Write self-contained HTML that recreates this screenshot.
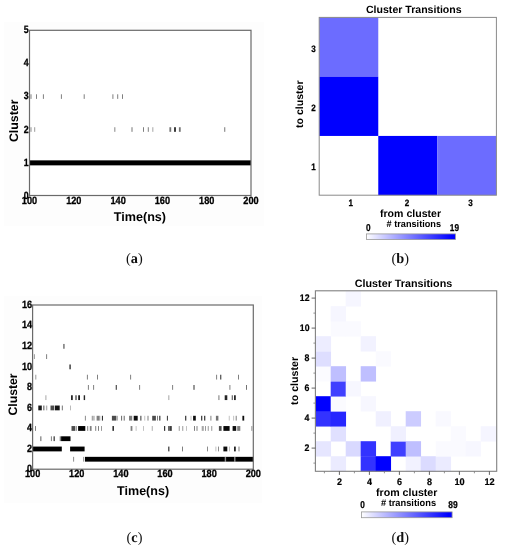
<!DOCTYPE html>
<html lang="en"><head><meta charset="utf-8"><title>Cluster figure</title>
<style>html,body{margin:0;padding:0;background:#fff}body{width:506px;height:550px;overflow:hidden}</style>
</head><body>
<svg width="506" height="550" viewBox="0 0 506 550" style="display:block" text-rendering="geometricPrecision">
<rect width="506" height="550" fill="#fff"/>
<rect x="4" y="22" width="260" height="204" fill="#fdfdfd"/>
<rect x="4" y="296" width="258" height="207" fill="#fdfdfd"/>
<rect x="32.6" y="305" width="220.7" height="164.2" fill="#fff"/>
<rect x="29.5" y="30.3" width="221.5" height="165.2" fill="#fff"/>
<rect x="30.50" y="94.28" width="1" height="4.6" fill="#000" fill-opacity="0.5"/>
<rect x="36.00" y="94.28" width="1" height="4.6" fill="#000" fill-opacity="0.5"/>
<rect x="42.90" y="94.28" width="1" height="4.6" fill="#000" fill-opacity="0.5"/>
<rect x="60.90" y="94.28" width="1" height="4.6" fill="#000" fill-opacity="0.5"/>
<rect x="83.70" y="94.28" width="1" height="4.6" fill="#000" fill-opacity="0.5"/>
<rect x="112.40" y="94.28" width="1" height="4.6" fill="#000" fill-opacity="0.5"/>
<rect x="117.20" y="94.28" width="1" height="4.6" fill="#000" fill-opacity="0.5"/>
<rect x="122.00" y="94.28" width="1" height="4.6" fill="#000" fill-opacity="0.5"/>
<rect x="30.50" y="127.22" width="1" height="4.6" fill="#000" fill-opacity="0.45"/>
<rect x="34.20" y="127.22" width="1" height="4.6" fill="#000" fill-opacity="0.4"/>
<rect x="114.20" y="127.22" width="1.2" height="4.6" fill="#000" fill-opacity="0.4"/>
<rect x="131.40" y="127.22" width="1.2" height="4.6" fill="#000" fill-opacity="0.45"/>
<rect x="143.00" y="127.22" width="1" height="4.6" fill="#000" fill-opacity="0.5"/>
<rect x="147.80" y="127.22" width="1" height="4.6" fill="#000" fill-opacity="0.5"/>
<rect x="152.20" y="127.22" width="1.2" height="4.6" fill="#000" fill-opacity="0.3"/>
<rect x="169.40" y="127.22" width="1.8" height="4.6" fill="#000" fill-opacity="0.55"/>
<rect x="174.10" y="127.22" width="1.8" height="4.6" fill="#000" fill-opacity="0.85"/>
<rect x="178.90" y="127.22" width="1.8" height="4.6" fill="#000" fill-opacity="0.55"/>
<rect x="224.10" y="127.22" width="1.2" height="4.6" fill="#000" fill-opacity="0.45"/>
<rect x="29.50" y="160.36" width="221.50" height="5.0" fill="#000" fill-opacity="1"/>
<rect x="29.5" y="30.3" width="221.5" height="165.2" fill="none" stroke="#6a6a6a" stroke-width="1.2"/>
<text x="28.6" y="198.6" font-size="10.5" text-anchor="end" font-family="Liberation Sans, Arial, Helvetica, sans-serif" font-weight="bold" fill="#000" textLength="4.9" lengthAdjust="spacingAndGlyphs"  stroke="#000" stroke-width="0.3">0</text>
<text x="28.6" y="165.56" font-size="10.5" text-anchor="end" font-family="Liberation Sans, Arial, Helvetica, sans-serif" font-weight="bold" fill="#000" textLength="4.9" lengthAdjust="spacingAndGlyphs"  stroke="#000" stroke-width="0.3">1</text>
<text x="28.6" y="132.52" font-size="10.5" text-anchor="end" font-family="Liberation Sans, Arial, Helvetica, sans-serif" font-weight="bold" fill="#000" textLength="4.9" lengthAdjust="spacingAndGlyphs"  stroke="#000" stroke-width="0.3">2</text>
<text x="28.6" y="99.48" font-size="10.5" text-anchor="end" font-family="Liberation Sans, Arial, Helvetica, sans-serif" font-weight="bold" fill="#000" textLength="4.9" lengthAdjust="spacingAndGlyphs"  stroke="#000" stroke-width="0.3">3</text>
<text x="28.6" y="66.44" font-size="10.5" text-anchor="end" font-family="Liberation Sans, Arial, Helvetica, sans-serif" font-weight="bold" fill="#000" textLength="4.9" lengthAdjust="spacingAndGlyphs"  stroke="#000" stroke-width="0.3">4</text>
<text x="28.6" y="33.40000000000001" font-size="10.5" text-anchor="end" font-family="Liberation Sans, Arial, Helvetica, sans-serif" font-weight="bold" fill="#000" textLength="4.9" lengthAdjust="spacingAndGlyphs"  stroke="#000" stroke-width="0.3">5</text>
<text x="29.5" y="203.5" font-size="10.5" text-anchor="middle" font-family="Liberation Sans, Arial, Helvetica, sans-serif" font-weight="bold" fill="#000" textLength="15.3" lengthAdjust="spacingAndGlyphs"  stroke="#000" stroke-width="0.3">100</text>
<text x="73.8" y="203.5" font-size="10.5" text-anchor="middle" font-family="Liberation Sans, Arial, Helvetica, sans-serif" font-weight="bold" fill="#000" textLength="15.3" lengthAdjust="spacingAndGlyphs"  stroke="#000" stroke-width="0.3">120</text>
<text x="118.1" y="203.5" font-size="10.5" text-anchor="middle" font-family="Liberation Sans, Arial, Helvetica, sans-serif" font-weight="bold" fill="#000" textLength="15.3" lengthAdjust="spacingAndGlyphs"  stroke="#000" stroke-width="0.3">140</text>
<text x="162.4" y="203.5" font-size="10.5" text-anchor="middle" font-family="Liberation Sans, Arial, Helvetica, sans-serif" font-weight="bold" fill="#000" textLength="15.3" lengthAdjust="spacingAndGlyphs"  stroke="#000" stroke-width="0.3">160</text>
<text x="206.7" y="203.5" font-size="10.5" text-anchor="middle" font-family="Liberation Sans, Arial, Helvetica, sans-serif" font-weight="bold" fill="#000" textLength="15.3" lengthAdjust="spacingAndGlyphs"  stroke="#000" stroke-width="0.3">180</text>
<text x="251.0" y="203.5" font-size="10.5" text-anchor="middle" font-family="Liberation Sans, Arial, Helvetica, sans-serif" font-weight="bold" fill="#000" textLength="15.3" lengthAdjust="spacingAndGlyphs"  stroke="#000" stroke-width="0.3">200</text>
<text transform="translate(18.4,120.8) rotate(-90)" font-size="12.3" text-anchor="middle" font-family="Liberation Sans, Arial, Helvetica, sans-serif" font-weight="bold" fill="#000" textLength="42.5" lengthAdjust="spacingAndGlyphs">Cluster</text>
<text x="139.9" y="221.2" font-size="12.6" text-anchor="middle" font-family="Liberation Sans, Arial, Helvetica, sans-serif" font-weight="bold" fill="#000" textLength="52.3" lengthAdjust="spacingAndGlyphs" >Time(ns)</text>
<rect x="63.10" y="343.95" width="1.6" height="4.8" fill="#000" fill-opacity="0.5"/>
<rect x="33.90" y="354.21" width="1" height="4.8" fill="#000" fill-opacity="0.4"/>
<rect x="46.10" y="354.21" width="1" height="4.8" fill="#000" fill-opacity="0.5"/>
<rect x="69.30" y="364.48" width="1.6" height="4.8" fill="#000" fill-opacity="0.7"/>
<rect x="35.30" y="374.74" width="1" height="4.8" fill="#000" fill-opacity="0.4"/>
<rect x="86.90" y="374.74" width="1" height="4.8" fill="#000" fill-opacity="0.5"/>
<rect x="97.00" y="374.74" width="1" height="4.8" fill="#000" fill-opacity="0.5"/>
<rect x="130.10" y="374.74" width="1" height="4.8" fill="#000" fill-opacity="0.5"/>
<rect x="216.10" y="374.74" width="1" height="4.8" fill="#000" fill-opacity="0.5"/>
<rect x="220.05" y="374.74" width="1.3" height="4.8" fill="#000" fill-opacity="0.65"/>
<rect x="238.00" y="374.74" width="1" height="4.8" fill="#000" fill-opacity="0.5"/>
<rect x="87.90" y="385.00" width="1" height="4.8" fill="#000" fill-opacity="0.5"/>
<rect x="93.10" y="385.00" width="1" height="4.8" fill="#000" fill-opacity="0.5"/>
<rect x="115.70" y="385.00" width="1.2" height="4.8" fill="#000" fill-opacity="0.7"/>
<rect x="139.10" y="385.00" width="1" height="4.8" fill="#000" fill-opacity="0.5"/>
<rect x="172.10" y="385.00" width="1" height="4.8" fill="#000" fill-opacity="0.5"/>
<rect x="193.20" y="385.00" width="1.6" height="4.8" fill="#000" fill-opacity="0.5"/>
<rect x="229.40" y="385.00" width="1" height="4.8" fill="#000" fill-opacity="0.5"/>
<rect x="246.00" y="385.00" width="1" height="4.8" fill="#000" fill-opacity="0.55"/>
<rect x="45.40" y="395.26" width="1" height="4.8" fill="#000" fill-opacity="0.35"/>
<rect x="71.00" y="395.26" width="1.8" height="4.8" fill="#000" fill-opacity="0.85"/>
<rect x="75.20" y="395.26" width="1.6" height="4.8" fill="#000" fill-opacity="0.6"/>
<rect x="78.20" y="395.26" width="1.8" height="4.8" fill="#000" fill-opacity="0.9"/>
<rect x="83.70" y="395.26" width="1.4" height="4.8" fill="#000" fill-opacity="0.85"/>
<rect x="168.20" y="395.26" width="1.2" height="4.8" fill="#000" fill-opacity="0.3"/>
<rect x="218.30" y="395.26" width="1.2" height="4.8" fill="#000" fill-opacity="0.45"/>
<rect x="224.70" y="395.26" width="2.6" height="4.8" fill="#000" fill-opacity="0.85"/>
<rect x="231.70" y="395.26" width="1.2" height="4.8" fill="#000" fill-opacity="0.6"/>
<rect x="234.00" y="395.26" width="1.8" height="4.8" fill="#000" fill-opacity="0.85"/>
<rect x="38.30" y="405.53" width="3.50" height="4.8" fill="#000" fill-opacity="0.9"/>
<rect x="43.10" y="405.53" width="1.40" height="4.8" fill="#000" fill-opacity="0.5"/>
<rect x="45.90" y="405.53" width="1.40" height="4.8" fill="#000" fill-opacity="0.3"/>
<rect x="50.50" y="405.53" width="3.70" height="4.8" fill="#000" fill-opacity="0.7"/>
<rect x="54.90" y="405.53" width="4.80" height="4.8" fill="#000" fill-opacity="0.92"/>
<rect x="61.80" y="405.53" width="1.10" height="4.8" fill="#000" fill-opacity="0.5"/>
<rect x="70.00" y="405.53" width="0.90" height="4.8" fill="#000" fill-opacity="0.3"/>
<rect x="84.90" y="415.79" width="0.90" height="4.8" fill="#000" fill-opacity="0.5"/>
<rect x="91.80" y="415.79" width="0.90" height="4.8" fill="#000" fill-opacity="0.5"/>
<rect x="93.50" y="415.79" width="0.90" height="4.8" fill="#000" fill-opacity="0.5"/>
<rect x="96.60" y="415.79" width="2.40" height="4.8" fill="#000" fill-opacity="0.5"/>
<rect x="99.30" y="415.79" width="0.90" height="4.8" fill="#000" fill-opacity="0.5"/>
<rect x="101.90" y="415.79" width="1.10" height="4.8" fill="#000" fill-opacity="0.8"/>
<rect x="111.90" y="415.79" width="4.40" height="4.8" fill="#000" fill-opacity="0.7"/>
<rect x="116.80" y="415.79" width="0.80" height="4.8" fill="#000" fill-opacity="0.5"/>
<rect x="121.10" y="415.79" width="1.00" height="4.8" fill="#000" fill-opacity="0.6"/>
<rect x="123.70" y="415.79" width="1.00" height="4.8" fill="#000" fill-opacity="0.6"/>
<rect x="129.00" y="415.79" width="3.20" height="4.8" fill="#000" fill-opacity="0.5"/>
<rect x="133.70" y="415.79" width="4.00" height="4.8" fill="#000" fill-opacity="0.95"/>
<rect x="140.00" y="415.79" width="1.60" height="4.8" fill="#000" fill-opacity="0.5"/>
<rect x="144.40" y="415.79" width="0.80" height="4.8" fill="#000" fill-opacity="0.3"/>
<rect x="147.50" y="415.79" width="1.00" height="4.8" fill="#000" fill-opacity="0.5"/>
<rect x="152.20" y="415.79" width="3.70" height="4.8" fill="#000" fill-opacity="0.7"/>
<rect x="157.00" y="415.79" width="1.00" height="4.8" fill="#000" fill-opacity="0.5"/>
<rect x="159.20" y="415.79" width="1.20" height="4.8" fill="#000" fill-opacity="0.8"/>
<rect x="166.90" y="415.79" width="1.00" height="4.8" fill="#000" fill-opacity="0.8"/>
<rect x="185.10" y="415.79" width="1.20" height="4.8" fill="#000" fill-opacity="0.8"/>
<rect x="190.60" y="415.79" width="0.80" height="4.8" fill="#000" fill-opacity="0.3"/>
<rect x="193.10" y="415.79" width="2.70" height="4.8" fill="#000" fill-opacity="0.95"/>
<rect x="201.10" y="415.79" width="1.20" height="4.8" fill="#000" fill-opacity="0.8"/>
<rect x="204.10" y="415.79" width="1.20" height="4.8" fill="#000" fill-opacity="0.8"/>
<rect x="210.40" y="415.79" width="1.00" height="4.8" fill="#000" fill-opacity="0.5"/>
<rect x="215.90" y="415.79" width="2.50" height="4.8" fill="#000" fill-opacity="0.55"/>
<rect x="228.80" y="415.79" width="0.80" height="4.8" fill="#000" fill-opacity="0.3"/>
<rect x="233.30" y="415.79" width="0.80" height="4.8" fill="#000" fill-opacity="0.3"/>
<rect x="235.70" y="415.79" width="1.00" height="4.8" fill="#000" fill-opacity="0.5"/>
<rect x="242.40" y="415.79" width="1.80" height="4.8" fill="#000" fill-opacity="0.95"/>
<rect x="35.00" y="426.05" width="1.00" height="4.8" fill="#000" fill-opacity="0.5"/>
<rect x="71.50" y="426.05" width="3.50" height="4.8" fill="#000" fill-opacity="0.7"/>
<rect x="75.40" y="426.05" width="1.60" height="4.8" fill="#000" fill-opacity="0.4"/>
<rect x="78.10" y="426.05" width="7.20" height="4.8" fill="#000" fill-opacity="1"/>
<rect x="87.20" y="426.05" width="1.00" height="4.8" fill="#000" fill-opacity="0.5"/>
<rect x="89.80" y="426.05" width="1.80" height="4.8" fill="#000" fill-opacity="0.5"/>
<rect x="95.20" y="426.05" width="1.00" height="4.8" fill="#000" fill-opacity="0.5"/>
<rect x="98.00" y="426.05" width="1.00" height="4.8" fill="#000" fill-opacity="0.5"/>
<rect x="101.00" y="426.05" width="0.80" height="4.8" fill="#000" fill-opacity="0.5"/>
<rect x="112.40" y="426.05" width="1.60" height="4.8" fill="#000" fill-opacity="0.8"/>
<rect x="130.60" y="426.05" width="1.80" height="4.8" fill="#000" fill-opacity="0.5"/>
<rect x="135.70" y="426.05" width="0.80" height="4.8" fill="#000" fill-opacity="0.3"/>
<rect x="143.10" y="426.05" width="0.80" height="4.8" fill="#000" fill-opacity="0.3"/>
<rect x="151.80" y="426.05" width="0.80" height="4.8" fill="#000" fill-opacity="0.4"/>
<rect x="164.00" y="426.05" width="1.20" height="4.8" fill="#000" fill-opacity="0.8"/>
<rect x="168.00" y="426.05" width="3.70" height="4.8" fill="#000" fill-opacity="0.6"/>
<rect x="170.00" y="426.05" width="1.80" height="4.8" fill="#000" fill-opacity="0.4"/>
<rect x="178.80" y="426.05" width="0.80" height="4.8" fill="#000" fill-opacity="0.5"/>
<rect x="182.40" y="426.05" width="0.80" height="4.8" fill="#000" fill-opacity="0.5"/>
<rect x="186.00" y="426.05" width="0.80" height="4.8" fill="#000" fill-opacity="0.3"/>
<rect x="194.00" y="426.05" width="1.00" height="4.8" fill="#000" fill-opacity="0.5"/>
<rect x="196.50" y="426.05" width="1.00" height="4.8" fill="#000" fill-opacity="0.5"/>
<rect x="201.70" y="426.05" width="2.10" height="4.8" fill="#000" fill-opacity="0.35"/>
<rect x="205.20" y="426.05" width="0.80" height="4.8" fill="#000" fill-opacity="0.5"/>
<rect x="207.80" y="426.05" width="0.80" height="4.8" fill="#000" fill-opacity="0.5"/>
<rect x="211.40" y="426.05" width="0.80" height="4.8" fill="#000" fill-opacity="0.5"/>
<rect x="218.90" y="426.05" width="2.70" height="4.8" fill="#000" fill-opacity="0.7"/>
<rect x="223.40" y="426.05" width="6.20" height="4.8" fill="#000" fill-opacity="0.97"/>
<rect x="232.60" y="426.05" width="3.60" height="4.8" fill="#000" fill-opacity="0.95"/>
<rect x="237.20" y="426.05" width="3.10" height="4.8" fill="#000" fill-opacity="0.5"/>
<rect x="251.30" y="426.05" width="1.00" height="4.8" fill="#000" fill-opacity="0.4"/>
<rect x="40.10" y="436.31" width="1.40" height="4.8" fill="#000" fill-opacity="0.45"/>
<rect x="50.90" y="436.31" width="1.00" height="4.8" fill="#000" fill-opacity="0.5"/>
<rect x="53.50" y="436.31" width="1.40" height="4.8" fill="#000" fill-opacity="0.7"/>
<rect x="59.70" y="436.31" width="1.40" height="4.8" fill="#000" fill-opacity="0.5"/>
<rect x="61.10" y="436.31" width="9.40" height="4.8" fill="#000" fill-opacity="1"/>
<rect x="33.00" y="446.58" width="28.80" height="4.8" fill="#000" fill-opacity="1"/>
<rect x="70.10" y="446.58" width="14.50" height="4.8" fill="#000" fill-opacity="1"/>
<rect x="168.20" y="446.58" width="1.20" height="4.8" fill="#000" fill-opacity="0.8"/>
<rect x="182.00" y="446.58" width="1.00" height="4.8" fill="#000" fill-opacity="0.5"/>
<rect x="207.00" y="446.58" width="0.90" height="4.8" fill="#000" fill-opacity="0.5"/>
<rect x="215.50" y="446.58" width="0.80" height="4.8" fill="#000" fill-opacity="0.3"/>
<rect x="218.00" y="446.58" width="0.90" height="4.8" fill="#000" fill-opacity="0.5"/>
<rect x="223.40" y="446.58" width="3.90" height="4.8" fill="#000" fill-opacity="0.95"/>
<rect x="229.20" y="446.58" width="0.80" height="4.8" fill="#000" fill-opacity="0.3"/>
<rect x="234.00" y="446.58" width="1.80" height="4.8" fill="#000" fill-opacity="0.85"/>
<rect x="238.50" y="446.58" width="1.00" height="4.8" fill="#000" fill-opacity="0.5"/>
<rect x="73.10" y="456.84" width="1.00" height="4.8" fill="#000" fill-opacity="0.45"/>
<rect x="83.20" y="456.84" width="1.00" height="4.8" fill="#000" fill-opacity="0.45"/>
<rect x="85.00" y="456.84" width="168.30" height="4.8" fill="#000" fill-opacity="1"/>
<rect x="224.70000000000002" y="456.7375" width="1.4" height="5" fill="#fff" fill-opacity="0.55"/>
<rect x="234.10000000000002" y="456.7375" width="1.4" height="5" fill="#fff" fill-opacity="0.55"/>
<rect x="32.6" y="305.0" width="220.70000000000002" height="164.2" fill="none" stroke="#6a6a6a" stroke-width="1.2"/>
<text x="32.1" y="472.2" font-size="10.5" text-anchor="end" font-family="Liberation Sans, Arial, Helvetica, sans-serif" font-weight="bold" fill="#000" textLength="5" lengthAdjust="spacingAndGlyphs"  stroke="#000" stroke-width="0.3">0</text>
<text x="32.1" y="451.675" font-size="10.5" text-anchor="end" font-family="Liberation Sans, Arial, Helvetica, sans-serif" font-weight="bold" fill="#000" textLength="5" lengthAdjust="spacingAndGlyphs"  stroke="#000" stroke-width="0.3">2</text>
<text x="32.1" y="431.15" font-size="10.5" text-anchor="end" font-family="Liberation Sans, Arial, Helvetica, sans-serif" font-weight="bold" fill="#000" textLength="5" lengthAdjust="spacingAndGlyphs"  stroke="#000" stroke-width="0.3">4</text>
<text x="32.1" y="410.625" font-size="10.5" text-anchor="end" font-family="Liberation Sans, Arial, Helvetica, sans-serif" font-weight="bold" fill="#000" textLength="5" lengthAdjust="spacingAndGlyphs"  stroke="#000" stroke-width="0.3">6</text>
<text x="32.1" y="390.1" font-size="10.5" text-anchor="end" font-family="Liberation Sans, Arial, Helvetica, sans-serif" font-weight="bold" fill="#000" textLength="5" lengthAdjust="spacingAndGlyphs"  stroke="#000" stroke-width="0.3">8</text>
<text x="32.1" y="369.575" font-size="10.5" text-anchor="end" font-family="Liberation Sans, Arial, Helvetica, sans-serif" font-weight="bold" fill="#000" textLength="10.2" lengthAdjust="spacingAndGlyphs"  stroke="#000" stroke-width="0.3">10</text>
<text x="32.1" y="349.05" font-size="10.5" text-anchor="end" font-family="Liberation Sans, Arial, Helvetica, sans-serif" font-weight="bold" fill="#000" textLength="10.2" lengthAdjust="spacingAndGlyphs"  stroke="#000" stroke-width="0.3">12</text>
<text x="32.1" y="327.825" font-size="10.5" text-anchor="end" font-family="Liberation Sans, Arial, Helvetica, sans-serif" font-weight="bold" fill="#000" textLength="10.2" lengthAdjust="spacingAndGlyphs"  stroke="#000" stroke-width="0.3">14</text>
<text x="32.1" y="308.0" font-size="10.5" text-anchor="end" font-family="Liberation Sans, Arial, Helvetica, sans-serif" font-weight="bold" fill="#000" textLength="10.2" lengthAdjust="spacingAndGlyphs"  stroke="#000" stroke-width="0.3">16</text>
<text x="32.6" y="477.3" font-size="10.5" text-anchor="middle" font-family="Liberation Sans, Arial, Helvetica, sans-serif" font-weight="bold" fill="#000" textLength="15.3" lengthAdjust="spacingAndGlyphs"  stroke="#000" stroke-width="0.3">100</text>
<text x="76.74000000000001" y="477.3" font-size="10.5" text-anchor="middle" font-family="Liberation Sans, Arial, Helvetica, sans-serif" font-weight="bold" fill="#000" textLength="15.3" lengthAdjust="spacingAndGlyphs"  stroke="#000" stroke-width="0.3">120</text>
<text x="120.88" y="477.3" font-size="10.5" text-anchor="middle" font-family="Liberation Sans, Arial, Helvetica, sans-serif" font-weight="bold" fill="#000" textLength="15.3" lengthAdjust="spacingAndGlyphs"  stroke="#000" stroke-width="0.3">140</text>
<text x="165.02" y="477.3" font-size="10.5" text-anchor="middle" font-family="Liberation Sans, Arial, Helvetica, sans-serif" font-weight="bold" fill="#000" textLength="15.3" lengthAdjust="spacingAndGlyphs"  stroke="#000" stroke-width="0.3">160</text>
<text x="209.16" y="477.3" font-size="10.5" text-anchor="middle" font-family="Liberation Sans, Arial, Helvetica, sans-serif" font-weight="bold" fill="#000" textLength="15.3" lengthAdjust="spacingAndGlyphs"  stroke="#000" stroke-width="0.3">180</text>
<text x="253.29999999999998" y="477.3" font-size="10.5" text-anchor="middle" font-family="Liberation Sans, Arial, Helvetica, sans-serif" font-weight="bold" fill="#000" textLength="15.3" lengthAdjust="spacingAndGlyphs"  stroke="#000" stroke-width="0.3">200</text>
<text transform="translate(16.9,394.5) rotate(-90)" font-size="12.3" text-anchor="middle" font-family="Liberation Sans, Arial, Helvetica, sans-serif" font-weight="bold" fill="#000" textLength="42.2" lengthAdjust="spacingAndGlyphs">Cluster</text>
<text x="143.1" y="495.2" font-size="12.6" text-anchor="middle" font-family="Liberation Sans, Arial, Helvetica, sans-serif" font-weight="bold" fill="#000" textLength="52" lengthAdjust="spacingAndGlyphs" >Time(ns)</text>
<rect x="319.20" y="17.40" width="59.07" height="59.27" fill="#6c6cff"/>
<rect x="319.20" y="76.67" width="59.07" height="59.27" fill="#0000ff"/>
<rect x="378.27" y="135.93" width="59.07" height="59.27" fill="#0000ff"/>
<rect x="437.33" y="135.93" width="59.07" height="59.27" fill="#6c6cff"/>
<rect x="319.2" y="17.4" width="177.2" height="177.79999999999998" fill="none" stroke="#8a8a8a" stroke-width="1"/>
<text x="413.8" y="13.2" font-size="10.5" text-anchor="middle" font-family="Liberation Sans, Arial, Helvetica, sans-serif" font-weight="bold" fill="#000" textLength="95.6" lengthAdjust="spacingAndGlyphs" >Cluster Transitions</text>
<text x="315.8" y="51.93333333333333" font-size="9.3" text-anchor="end" font-family="Liberation Sans, Arial, Helvetica, sans-serif" font-weight="bold" fill="#000" textLength="4.5" lengthAdjust="spacingAndGlyphs"  stroke="#000" stroke-width="0.25">3</text>
<text x="315.8" y="111.19999999999997" font-size="9.3" text-anchor="end" font-family="Liberation Sans, Arial, Helvetica, sans-serif" font-weight="bold" fill="#000" textLength="4.5" lengthAdjust="spacingAndGlyphs"  stroke="#000" stroke-width="0.25">2</text>
<text x="315.8" y="170.46666666666667" font-size="9.3" text-anchor="end" font-family="Liberation Sans, Arial, Helvetica, sans-serif" font-weight="bold" fill="#000" textLength="4.5" lengthAdjust="spacingAndGlyphs"  stroke="#000" stroke-width="0.25">1</text>
<text x="350.8" y="206.4" font-size="9.3" text-anchor="middle" font-family="Liberation Sans, Arial, Helvetica, sans-serif" font-weight="bold" fill="#000" textLength="4.5" lengthAdjust="spacingAndGlyphs"  stroke="#000" stroke-width="0.25">1</text>
<text x="406.9" y="206.4" font-size="9.3" text-anchor="middle" font-family="Liberation Sans, Arial, Helvetica, sans-serif" font-weight="bold" fill="#000" textLength="4.5" lengthAdjust="spacingAndGlyphs"  stroke="#000" stroke-width="0.25">2</text>
<text x="470.6" y="206.4" font-size="9.3" text-anchor="middle" font-family="Liberation Sans, Arial, Helvetica, sans-serif" font-weight="bold" fill="#000" textLength="4.5" lengthAdjust="spacingAndGlyphs"  stroke="#000" stroke-width="0.25">3</text>
<text transform="translate(303.4,104.2) rotate(-90)" font-size="10.5" text-anchor="middle" font-family="Liberation Sans, Arial, Helvetica, sans-serif" font-weight="bold" fill="#000" textLength="47.4" lengthAdjust="spacingAndGlyphs">to cluster</text>
<text x="410.5" y="217.2" font-size="10.5" text-anchor="middle" font-family="Liberation Sans, Arial, Helvetica, sans-serif" font-weight="bold" fill="#000" textLength="61" lengthAdjust="spacingAndGlyphs" >from cluster</text>
<text x="413.8" y="226.7" font-size="9.5" text-anchor="middle" font-family="Liberation Sans, Arial, Helvetica, sans-serif" font-weight="bold" fill="#000" textLength="54.4" lengthAdjust="spacingAndGlyphs" ># transitions</text>
<text x="368.4" y="231.0" font-size="10" text-anchor="middle" font-family="Liberation Sans, Arial, Helvetica, sans-serif" font-weight="bold" fill="#000" textLength="4.6" lengthAdjust="spacingAndGlyphs"  stroke="#000" stroke-width="0.25">0</text>
<text x="454.4" y="231.0" font-size="10" text-anchor="middle" font-family="Liberation Sans, Arial, Helvetica, sans-serif" font-weight="bold" fill="#000" textLength="9.2" lengthAdjust="spacingAndGlyphs"  stroke="#000" stroke-width="0.25">19</text>
<defs><linearGradient id="g"><stop offset="0" stop-color="#fff"/><stop offset="0.96" stop-color="#00f"/><stop offset="1" stop-color="#00f"/></linearGradient></defs>
<rect x="366.4" y="233.9" width="89" height="5.7" fill="url(#g)" stroke="#999" stroke-width="0.8"/>
<rect x="330.70" y="456.20" width="15.35" height="15.35" fill="rgb(235,235,255)"/>
<rect x="360.70" y="456.20" width="15.35" height="15.35" fill="rgb(51,51,255)"/>
<rect x="375.70" y="456.20" width="15.35" height="15.35" fill="rgb(0,0,255)"/>
<rect x="405.70" y="456.20" width="15.35" height="15.35" fill="rgb(242,242,255)"/>
<rect x="420.70" y="456.20" width="15.35" height="15.35" fill="rgb(219,219,255)"/>
<rect x="435.70" y="456.20" width="15.35" height="15.35" fill="rgb(235,235,255)"/>
<rect x="315.70" y="441.20" width="15.35" height="15.35" fill="rgb(230,230,255)"/>
<rect x="345.70" y="441.20" width="15.35" height="15.35" fill="rgb(217,217,255)"/>
<rect x="360.70" y="441.20" width="15.35" height="15.35" fill="rgb(51,51,255)"/>
<rect x="390.70" y="441.20" width="15.35" height="15.35" fill="rgb(64,64,255)"/>
<rect x="405.70" y="441.20" width="15.35" height="15.35" fill="rgb(191,191,255)"/>
<rect x="435.70" y="441.20" width="15.35" height="15.35" fill="rgb(250,250,255)"/>
<rect x="450.70" y="441.20" width="15.35" height="15.35" fill="rgb(250,250,255)"/>
<rect x="465.70" y="441.20" width="15.35" height="15.35" fill="rgb(247,247,255)"/>
<rect x="330.70" y="426.20" width="15.35" height="15.35" fill="rgb(224,224,255)"/>
<rect x="390.70" y="426.20" width="15.35" height="15.35" fill="rgb(240,240,255)"/>
<rect x="450.70" y="426.20" width="15.35" height="15.35" fill="rgb(250,250,255)"/>
<rect x="480.70" y="426.20" width="15.35" height="15.35" fill="rgb(245,245,255)"/>
<rect x="315.70" y="411.20" width="15.35" height="15.35" fill="rgb(51,51,255)"/>
<rect x="330.70" y="411.20" width="15.35" height="15.35" fill="rgb(38,38,255)"/>
<rect x="375.70" y="411.20" width="15.35" height="15.35" fill="rgb(240,240,255)"/>
<rect x="405.70" y="411.20" width="15.35" height="15.35" fill="rgb(204,204,255)"/>
<rect x="435.70" y="411.20" width="15.35" height="15.35" fill="rgb(249,249,255)"/>
<rect x="315.70" y="396.20" width="15.35" height="15.35" fill="rgb(0,0,255)"/>
<rect x="330.70" y="396.20" width="15.35" height="15.35" fill="rgb(251,251,255)"/>
<rect x="360.70" y="396.20" width="15.35" height="15.35" fill="rgb(247,247,255)"/>
<rect x="330.70" y="381.20" width="15.35" height="15.35" fill="rgb(64,64,255)"/>
<rect x="345.70" y="381.20" width="15.35" height="15.35" fill="rgb(247,247,255)"/>
<rect x="315.70" y="366.20" width="15.35" height="15.35" fill="rgb(251,251,255)"/>
<rect x="330.70" y="366.20" width="15.35" height="15.35" fill="rgb(191,191,255)"/>
<rect x="360.70" y="366.20" width="15.35" height="15.35" fill="rgb(191,191,255)"/>
<rect x="315.70" y="351.20" width="15.35" height="15.35" fill="rgb(222,222,255)"/>
<rect x="375.70" y="351.20" width="15.35" height="15.35" fill="rgb(250,250,255)"/>
<rect x="315.70" y="336.20" width="15.35" height="15.35" fill="rgb(237,237,255)"/>
<rect x="360.70" y="336.20" width="15.35" height="15.35" fill="rgb(242,242,255)"/>
<rect x="330.70" y="321.20" width="15.35" height="15.35" fill="rgb(250,250,255)"/>
<rect x="345.70" y="321.20" width="15.35" height="15.35" fill="rgb(250,250,255)"/>
<rect x="330.70" y="306.20" width="15.35" height="15.35" fill="rgb(246,246,255)"/>
<rect x="345.70" y="291.20" width="15.35" height="15.35" fill="rgb(246,246,255)"/>
<rect x="315.4" y="290.8" width="181.3" height="180.5" fill="none" stroke="#808080" stroke-width="1.1"/>
<line x1="313.4" x2="315.4" y1="463.10" y2="463.10" stroke="#777" stroke-width="0.8"/>
<line x1="324.40" x2="324.40" y1="471.3" y2="473.3" stroke="#777" stroke-width="0.8"/>
<line x1="311.6" x2="315.4" y1="448.10" y2="448.10" stroke="#555" stroke-width="0.9"/>
<line x1="339.40" x2="339.40" y1="471.3" y2="474.90000000000003" stroke="#555" stroke-width="0.9"/>
<text x="309.5" y="451.4" font-size="9.5" text-anchor="end" font-family="Liberation Sans, Arial, Helvetica, sans-serif" font-weight="bold" fill="#000" textLength="4.9" lengthAdjust="spacingAndGlyphs"  stroke="#000" stroke-width="0.2">2</text>
<text x="339.59999999999997" y="485.3" font-size="9.6" text-anchor="middle" font-family="Liberation Sans, Arial, Helvetica, sans-serif" font-weight="bold" fill="#000" textLength="5" lengthAdjust="spacingAndGlyphs"  stroke="#000" stroke-width="0.2">2</text>
<line x1="313.4" x2="315.4" y1="433.10" y2="433.10" stroke="#777" stroke-width="0.8"/>
<line x1="354.40" x2="354.40" y1="471.3" y2="473.3" stroke="#777" stroke-width="0.8"/>
<line x1="311.6" x2="315.4" y1="418.10" y2="418.10" stroke="#555" stroke-width="0.9"/>
<line x1="369.40" x2="369.40" y1="471.3" y2="474.90000000000003" stroke="#555" stroke-width="0.9"/>
<text x="309.5" y="421.4" font-size="9.5" text-anchor="end" font-family="Liberation Sans, Arial, Helvetica, sans-serif" font-weight="bold" fill="#000" textLength="4.9" lengthAdjust="spacingAndGlyphs"  stroke="#000" stroke-width="0.2">4</text>
<text x="369.59999999999997" y="485.3" font-size="9.6" text-anchor="middle" font-family="Liberation Sans, Arial, Helvetica, sans-serif" font-weight="bold" fill="#000" textLength="5" lengthAdjust="spacingAndGlyphs"  stroke="#000" stroke-width="0.2">4</text>
<line x1="313.4" x2="315.4" y1="403.10" y2="403.10" stroke="#777" stroke-width="0.8"/>
<line x1="384.40" x2="384.40" y1="471.3" y2="473.3" stroke="#777" stroke-width="0.8"/>
<line x1="311.6" x2="315.4" y1="388.10" y2="388.10" stroke="#555" stroke-width="0.9"/>
<line x1="399.40" x2="399.40" y1="471.3" y2="474.90000000000003" stroke="#555" stroke-width="0.9"/>
<text x="309.5" y="391.4" font-size="9.5" text-anchor="end" font-family="Liberation Sans, Arial, Helvetica, sans-serif" font-weight="bold" fill="#000" textLength="4.9" lengthAdjust="spacingAndGlyphs"  stroke="#000" stroke-width="0.2">6</text>
<text x="399.59999999999997" y="485.3" font-size="9.6" text-anchor="middle" font-family="Liberation Sans, Arial, Helvetica, sans-serif" font-weight="bold" fill="#000" textLength="5" lengthAdjust="spacingAndGlyphs"  stroke="#000" stroke-width="0.2">6</text>
<line x1="313.4" x2="315.4" y1="373.10" y2="373.10" stroke="#777" stroke-width="0.8"/>
<line x1="414.40" x2="414.40" y1="471.3" y2="473.3" stroke="#777" stroke-width="0.8"/>
<line x1="311.6" x2="315.4" y1="358.10" y2="358.10" stroke="#555" stroke-width="0.9"/>
<line x1="429.40" x2="429.40" y1="471.3" y2="474.90000000000003" stroke="#555" stroke-width="0.9"/>
<text x="309.5" y="361.4" font-size="9.5" text-anchor="end" font-family="Liberation Sans, Arial, Helvetica, sans-serif" font-weight="bold" fill="#000" textLength="4.9" lengthAdjust="spacingAndGlyphs"  stroke="#000" stroke-width="0.2">8</text>
<text x="429.59999999999997" y="485.3" font-size="9.6" text-anchor="middle" font-family="Liberation Sans, Arial, Helvetica, sans-serif" font-weight="bold" fill="#000" textLength="5" lengthAdjust="spacingAndGlyphs"  stroke="#000" stroke-width="0.2">8</text>
<line x1="313.4" x2="315.4" y1="343.10" y2="343.10" stroke="#777" stroke-width="0.8"/>
<line x1="444.40" x2="444.40" y1="471.3" y2="473.3" stroke="#777" stroke-width="0.8"/>
<line x1="311.6" x2="315.4" y1="328.10" y2="328.10" stroke="#555" stroke-width="0.9"/>
<line x1="459.40" x2="459.40" y1="471.3" y2="474.90000000000003" stroke="#555" stroke-width="0.9"/>
<text x="309.5" y="331.4" font-size="9.5" text-anchor="end" font-family="Liberation Sans, Arial, Helvetica, sans-serif" font-weight="bold" fill="#000" textLength="9.7" lengthAdjust="spacingAndGlyphs"  stroke="#000" stroke-width="0.2">10</text>
<text x="459.59999999999997" y="485.3" font-size="9.6" text-anchor="middle" font-family="Liberation Sans, Arial, Helvetica, sans-serif" font-weight="bold" fill="#000" textLength="10.2" lengthAdjust="spacingAndGlyphs"  stroke="#000" stroke-width="0.2">10</text>
<line x1="313.4" x2="315.4" y1="313.10" y2="313.10" stroke="#777" stroke-width="0.8"/>
<line x1="474.40" x2="474.40" y1="471.3" y2="473.3" stroke="#777" stroke-width="0.8"/>
<line x1="311.6" x2="315.4" y1="298.10" y2="298.10" stroke="#555" stroke-width="0.9"/>
<line x1="489.40" x2="489.40" y1="471.3" y2="474.90000000000003" stroke="#555" stroke-width="0.9"/>
<text x="309.5" y="301.4" font-size="9.5" text-anchor="end" font-family="Liberation Sans, Arial, Helvetica, sans-serif" font-weight="bold" fill="#000" textLength="9.7" lengthAdjust="spacingAndGlyphs"  stroke="#000" stroke-width="0.2">12</text>
<text x="489.59999999999997" y="485.3" font-size="9.6" text-anchor="middle" font-family="Liberation Sans, Arial, Helvetica, sans-serif" font-weight="bold" fill="#000" textLength="10.2" lengthAdjust="spacingAndGlyphs"  stroke="#000" stroke-width="0.2">12</text>
<text x="403.5" y="287" font-size="10.7" text-anchor="middle" font-family="Liberation Sans, Arial, Helvetica, sans-serif" font-weight="bold" fill="#000" textLength="97.4" lengthAdjust="spacingAndGlyphs" >Cluster Transitions</text>
<text transform="translate(297.5,380.9) rotate(-90)" font-size="10.6" text-anchor="middle" font-family="Liberation Sans, Arial, Helvetica, sans-serif" font-weight="bold" fill="#000" textLength="48" lengthAdjust="spacingAndGlyphs">to cluster</text>
<text x="406.7" y="496.2" font-size="10.6" text-anchor="middle" font-family="Liberation Sans, Arial, Helvetica, sans-serif" font-weight="bold" fill="#000" textLength="61.4" lengthAdjust="spacingAndGlyphs" >from cluster</text>
<text x="408.5" y="506.0" font-size="9.6" text-anchor="middle" font-family="Liberation Sans, Arial, Helvetica, sans-serif" font-weight="bold" fill="#000" textLength="55.1" lengthAdjust="spacingAndGlyphs" ># transitions</text>
<text x="362.5" y="508.1" font-size="10" text-anchor="middle" font-family="Liberation Sans, Arial, Helvetica, sans-serif" font-weight="bold" fill="#000" textLength="4.6" lengthAdjust="spacingAndGlyphs"  stroke="#000" stroke-width="0.25">0</text>
<text x="452.9" y="508.1" font-size="10" text-anchor="middle" font-family="Liberation Sans, Arial, Helvetica, sans-serif" font-weight="bold" fill="#000" textLength="9.4" lengthAdjust="spacingAndGlyphs"  stroke="#000" stroke-width="0.25">89</text>
<rect x="361.5" y="511.9" width="90.6" height="5.8" fill="url(#g)" stroke="#999" stroke-width="0.8"/>
<text x="134.4" y="263.4" font-size="14.3" text-anchor="middle" font-family="Liberation Serif, Times New Roman, serif" fill="#111">(<tspan font-weight="bold">a</tspan>)</text>
<text x="400.2" y="263.4" font-size="14.3" text-anchor="middle" font-family="Liberation Serif, Times New Roman, serif" fill="#111">(<tspan font-weight="bold">b</tspan>)</text>
<text x="134.5" y="542.0" font-size="14.3" text-anchor="middle" font-family="Liberation Serif, Times New Roman, serif" fill="#111">(<tspan font-weight="bold">c</tspan>)</text>
<text x="400.3" y="542.0" font-size="14.3" text-anchor="middle" font-family="Liberation Serif, Times New Roman, serif" fill="#111">(<tspan font-weight="bold">d</tspan>)</text>
</svg>
</body></html>
